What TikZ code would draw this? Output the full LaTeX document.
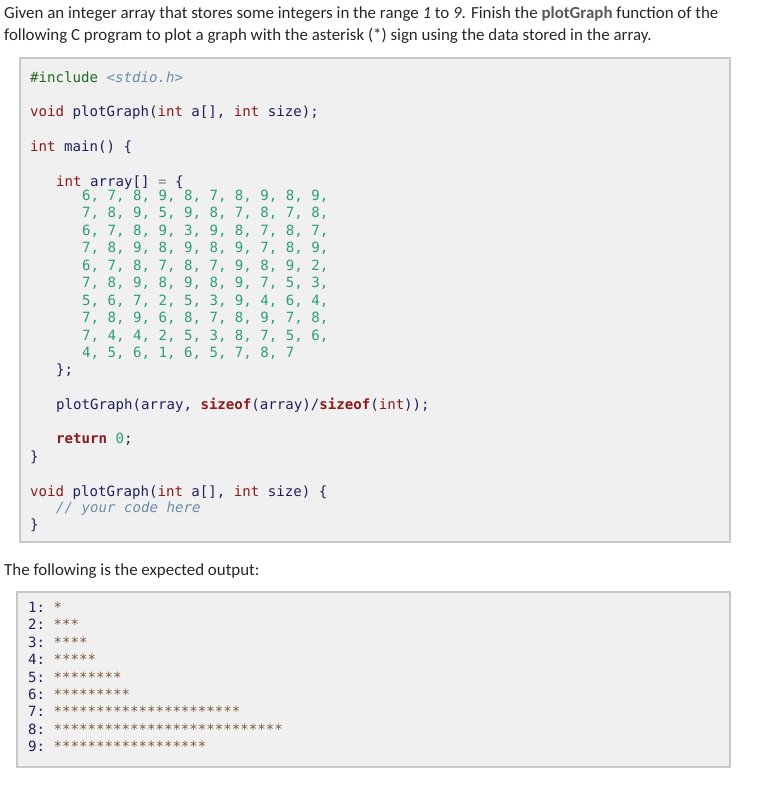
\documentclass[tikz,border=0pt]{standalone}
\usepackage{fontspec}
\setmainfont{Carlito}
\setmonofont{DejaVu Sans Mono}
\definecolor{kw}{HTML}{8B1A1A}
\definecolor{idf}{HTML}{1F1F5F}
\definecolor{num}{HTML}{2E9E72}
\definecolor{inc}{HTML}{1E6B1E}
\definecolor{hdr}{HTML}{6A8CAA}
\definecolor{boxbg}{HTML}{F0F0F0}
\definecolor{boxln}{HTML}{C8C8C8}
\definecolor{star}{HTML}{7A5A3A}
\newcommand{\K}[1]{\textcolor{kw}{#1}}
\newcommand{\I}[1]{\textcolor{idf}{#1}}
\newcommand{\N}[1]{\textcolor{num}{#1}}
\begin{document}
\begin{tikzpicture}[x=1pt,y=-1pt,
  txt/.style={anchor=base west,inner sep=0,font=\fontsize{16.9}{20}\selectfont,text=black!85},
  code/.style={anchor=base west,inner sep=0,font=\ttfamily\fontsize{14.1}{16}\selectfont,text=idf},
  panel/.style={fill=boxbg,draw=boxln,line width=1.5pt}]
\useasboundingbox (0,0) rectangle (759,787);
\node[txt] (t1) at (4,19) {Given an integer array that stores some integers in the range \textit{1} to \textit{9}. Finish the \textbf{\textcolor{black!65}{plotGraph}} function of the};
\node[txt] (t2) at (4,40) {following C program to plot a graph with the asterisk (*) sign using the data stored in the array.};
\draw[panel] (20,58) rectangle (730,542);
\node[code] (c1) at (30,82) {\textcolor{inc}{\#include} \textcolor{hdr}{\itshape <stdio.h>}};
\node[code] (c2) at (30,116) {\K{void} plotGraph(\K{int} a[], \K{int} size);};
\node[code] (c3) at (30,151) {\K{int} main() \{};
\node[code] (c4) at (56,186) {\K{int} array[] \textcolor{black!50}{=} \{};
\foreach \r [count=\i] in {
 {6, 7, 8, 9, 8, 7, 8, 9, 8, 9,},
 {7, 8, 9, 5, 9, 8, 7, 8, 7, 8,},
 {6, 7, 8, 9, 3, 9, 8, 7, 8, 7,},
 {7, 8, 9, 8, 9, 8, 9, 7, 8, 9,},
 {6, 7, 8, 7, 8, 7, 9, 8, 9, 2,},
 {7, 8, 9, 8, 9, 8, 9, 7, 5, 3,},
 {5, 6, 7, 2, 5, 3, 9, 4, 6, 4,},
 {7, 8, 9, 6, 8, 7, 8, 9, 7, 8,},
 {7, 4, 4, 2, 5, 3, 8, 7, 5, 6,},
 {4, 5, 6, 1, 6, 5, 7, 8, 7}}
  \node[code,text=num] (r\i) at (82,{183+17.45*\i}) {\r};
\node[code] (c5) at (56,374) {\};};
\node[code] (c6) at (56,409) {plotGraph(array, \textbf{\K{sizeof}}(array)/\textbf{\K{sizeof}}(\K{int}));};
\node[code] (c7) at (56,443) {\textbf{\K{return}} \N{0};};
\node[code] (c8) at (30,461) {\}};
\node[code] (c9) at (30,496) {\K{void} plotGraph(\K{int} a[], \K{int} size) \{};
\node[code,text=hdr] (c10) at (56,512) {\itshape // your code here};
\node[code] (c11) at (30,529) {\}};
\node[txt] (t3) at (4,575) {The following is the expected output:};
\draw[panel] (17,592) rectangle (730,767);
\foreach \n/\s in {1/*,2/***,3/****,4/*****,5/********,6/*********,
  7/**********************,8/***************************,9/******************}
  \node[code] (o\n) at (28,{595+17.4*\n}) {\n: \textcolor{star}{\s}};
\end{tikzpicture}
\end{document}
